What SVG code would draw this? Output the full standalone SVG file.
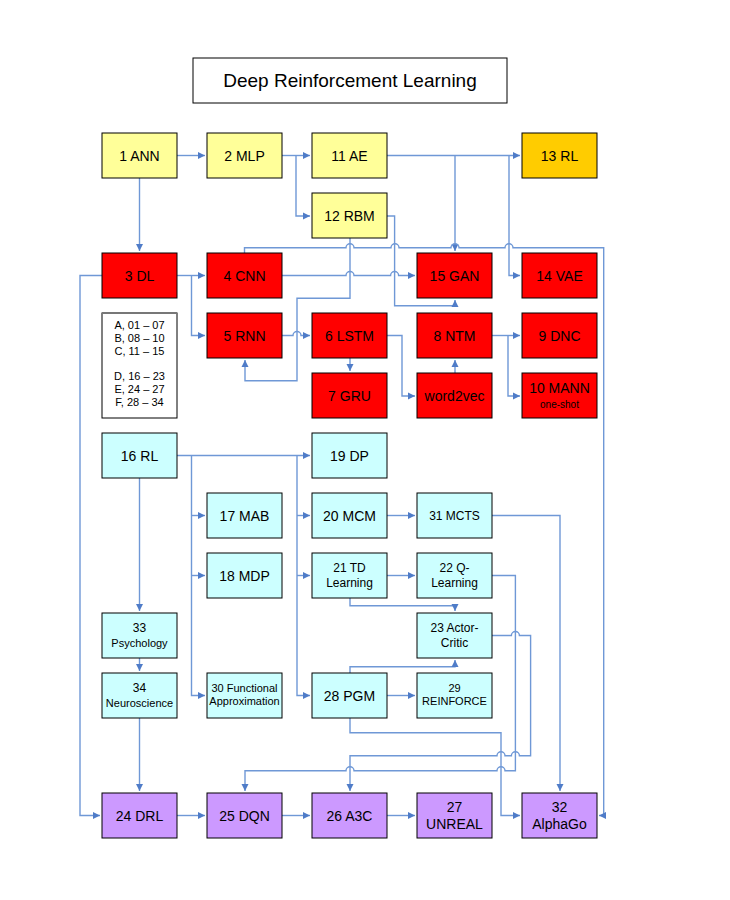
<svg xmlns="http://www.w3.org/2000/svg" width="730" height="900" viewBox="0 0 730 900">
<style>
text{font-family:"Liberation Sans",Arial,sans-serif;text-anchor:middle;fill:#000}
.n{stroke:#000;stroke-width:1}
.y{fill:#FFFF99}.o{fill:#FFCC00}.r{fill:#FF0000}.c{fill:#CCFFFF}.p{fill:#CC99FF}
.t{font-size:14px}.s{font-size:11px}.xs{font-size:10px}
#edges path{fill:none;stroke:#6F98D6;stroke-width:1.4;}
</style>
<defs><marker id="a" markerWidth="8" markerHeight="8" refX="7" refY="4" orient="auto" markerUnits="userSpaceOnUse"><path d="M0,0.5 L7,4 L0,7.5z" fill="#4F7CC8"/></marker></defs>
<rect width="730" height="900" fill="#fff"/>
<g id="title"><rect x="193" y="58" width="314" height="45" fill="#fff" stroke="#000"/><text x="350" y="87" style="font-size:19px">Deep Reinforcement Learning</text></g>
<g id="edges">
<path d="M177,155.5H205" marker-end="url(#a)"/>
<path d="M282,155.5H310" marker-end="url(#a)"/>
<path d="M296,155.5V216H310" marker-end="url(#a)"/>
<path d="M387,155.5H520" marker-end="url(#a)"/>
<path d="M455,155.5V251" marker-end="url(#a)"/>
<path d="M509,155.5V275.5H520" marker-end="url(#a)"/>
<path d="M139.5,178V251" marker-end="url(#a)"/>
<path d="M244.5,253V247.7H346a4 4 0 0 1 8 0H391a4 4 0 0 1 8 0H451a4 4 0 0 1 8 0H505a4 4 0 0 1 8 0H603.7V815.5H599" marker-end="url(#a)"/>
<path d="M387,216H394.6V305.7H455V300" marker-end="url(#a)"/>
<path d="M350,238V298.3H297V380.7H245V360" marker-end="url(#a)"/>
<path d="M177,275.5H205" marker-end="url(#a)"/>
<path d="M191.5,275.5V335.5H205" marker-end="url(#a)"/>
<path d="M282,275.5H346a4 4 0 0 1 8 0H390.6a4 4 0 0 1 8 0H415" marker-end="url(#a)"/>
<path d="M282,335.5H293a4 4 0 0 1 8 0H310" marker-end="url(#a)"/>
<path d="M350,358V371" marker-end="url(#a)"/>
<path d="M387,335.5H402V396H415" marker-end="url(#a)"/>
<path d="M455,373V360" marker-end="url(#a)"/>
<path d="M492,335.5H520" marker-end="url(#a)"/>
<path d="M508,335.5V396H520" marker-end="url(#a)"/>
<path d="M102,275.5H80V815.5H100" marker-end="url(#a)"/>
<path d="M177,455.5H310" marker-end="url(#a)"/>
<path d="M191.5,455.5V695.5H205" marker-end="url(#a)"/>
<path d="M191.5,515.5H205" marker-end="url(#a)"/>
<path d="M191.5,575.5H205" marker-end="url(#a)"/>
<path d="M297,455.5V695.5H310" marker-end="url(#a)"/>
<path d="M297,515.5H310" marker-end="url(#a)"/>
<path d="M297,575.5H310" marker-end="url(#a)"/>
<path d="M139.5,478V611" marker-end="url(#a)"/>
<path d="M139.5,658V671" marker-end="url(#a)"/>
<path d="M139.5,718V791" marker-end="url(#a)"/>
<path d="M387,515.5H415" marker-end="url(#a)"/>
<path d="M492,515.5H560V791" marker-end="url(#a)"/>
<path d="M387,575.5H415" marker-end="url(#a)"/>
<path d="M492,575.5H515.4V770.7H505a4 4 0 0 0 -8 0H354a4 4 0 0 0 -8 0H245V791" marker-end="url(#a)"/>
<path d="M350,598V605.7H455V611" marker-end="url(#a)"/>
<path d="M492,635.5H511.4a4 4 0 0 1 8 0H530.6V755.7H519.4a4 4 0 0 0 -8 0H505a4 4 0 0 0 -8 0H350V791" marker-end="url(#a)"/>
<path d="M350,673V666.7H455V660" marker-end="url(#a)"/>
<path d="M387,695.5H415" marker-end="url(#a)"/>
<path d="M350,718V732.7H501V815.5H520" marker-end="url(#a)"/>
<path d="M177,815.5H205" marker-end="url(#a)"/>
<path d="M282,815.5H310" marker-end="url(#a)"/>
<path d="M387,815.5H415" marker-end="url(#a)"/>
</g>
<g id="n1"><rect class="n y" x="102" y="133" width="75" height="45"/><text class="t" x="139.5" y="160.5">1 ANN</text></g>
<g id="n2"><rect class="n y" x="207" y="133" width="75" height="45"/><text class="t" x="244.5" y="160.5">2 MLP</text></g>
<g id="n11"><rect class="n y" x="312" y="133" width="75" height="45"/><text class="t" x="349.5" y="160.5">11 AE</text></g>
<g id="n13"><rect class="n o" x="522" y="133" width="75" height="45"/><text class="t" x="559.5" y="160.5">13 RL</text></g>
<g id="n12"><rect class="n y" x="312" y="193" width="75" height="45"/><text class="t" x="349.5" y="220.5">12 RBM</text></g>
<g id="n3"><rect class="n r" x="102" y="253" width="75" height="45"/><text class="t" x="139.5" y="280.5">3 DL</text></g>
<g id="n4"><rect class="n r" x="207" y="253" width="75" height="45"/><text class="t" x="244.5" y="280.5">4 CNN</text></g>
<g id="n15"><rect class="n r" x="417" y="253" width="75" height="45"/><text class="t" x="454.5" y="280.5">15 GAN</text></g>
<g id="n14"><rect class="n r" x="522" y="253" width="75" height="45"/><text class="t" x="559.5" y="280.5">14 VAE</text></g>
<g id="legend"><rect x="102" y="313" width="75" height="105" fill="#fff" stroke="#000"/><line x1="102" y1="313" x2="177" y2="313" stroke="#777" stroke-width="2"/>
<text class="s" x="139.5" y="329">A, 01 – 07</text><text class="s" x="139.5" y="342">B, 08 – 10</text><text class="s" x="139.5" y="355">C, 11 – 15</text>
<text class="s" x="139.5" y="380">D, 16 – 23</text><text class="s" x="139.5" y="393">E, 24 – 27</text><text class="s" x="139.5" y="406">F, 28 – 34</text></g>
<g id="n5"><rect class="n r" x="207" y="313" width="75" height="45"/><text class="t" x="244.5" y="340.5">5 RNN</text></g>
<g id="n6"><rect class="n r" x="312" y="313" width="75" height="45"/><text class="t" x="349.5" y="340.5">6 LSTM</text></g>
<g id="n8"><rect class="n r" x="417" y="313" width="75" height="45"/><text class="t" x="454.5" y="340.5">8 NTM</text></g>
<g id="n9"><rect class="n r" x="522" y="313" width="75" height="45"/><text class="t" x="559.5" y="340.5">9 DNC</text></g>
<g id="n7"><rect class="n r" x="312" y="373" width="75" height="45"/><text class="t" x="349.5" y="400.5">7 GRU</text></g>
<g id="nw2v"><rect class="n r" x="417" y="373" width="75" height="45"/><text class="t" x="454.5" y="400.5">word2vec</text></g>
<g id="n10"><rect class="n r" x="522" y="373" width="75" height="45"/><text class="t" x="559.5" y="393">10 MANN</text><text class="xs" x="559.5" y="408">one-shot</text></g>
<g id="n16"><rect class="n c" x="102" y="433" width="75" height="45"/><text class="t" x="139.5" y="460.5">16 RL</text></g>
<g id="n19"><rect class="n c" x="312" y="433" width="75" height="45"/><text class="t" x="349.5" y="460.5">19 DP</text></g>
<g id="n17"><rect class="n c" x="207" y="493" width="75" height="45"/><text class="t" x="244.5" y="520.5">17 MAB</text></g>
<g id="n20"><rect class="n c" x="312" y="493" width="75" height="45"/><text class="t" x="349.5" y="520.5">20 MCM</text></g>
<g id="n31"><rect class="n c" x="417" y="493" width="75" height="45"/><text x="454.5" y="520" style="font-size:12px">31 MCTS</text></g>
<g id="n18"><rect class="n c" x="207" y="553" width="75" height="45"/><text class="t" x="244.5" y="580.5">18 MDP</text></g>
<g id="n21"><rect class="n c" x="312" y="553" width="75" height="45"/><text x="349.5" y="572" style="font-size:12px">21 TD</text><text x="349.5" y="587" style="font-size:12px">Learning</text></g>
<g id="n22"><rect class="n c" x="417" y="553" width="75" height="45"/><text x="454.5" y="572" style="font-size:12px">22 Q-</text><text x="454.5" y="587" style="font-size:12px">Learning</text></g>
<g id="n23"><rect class="n c" x="417" y="613" width="75" height="45"/><text x="454.5" y="632" style="font-size:12px">23 Actor-</text><text x="454.5" y="647" style="font-size:12px">Critic</text></g>
<g id="n33"><rect class="n c" x="102" y="613" width="75" height="45"/><text x="139.5" y="632" style="font-size:12px">33</text><text class="s" x="139.5" y="647">Psychology</text></g>
<g id="n34"><rect class="n c" x="102" y="673" width="75" height="45"/><text x="139.5" y="692" style="font-size:12px">34</text><text class="s" x="139.5" y="707">Neuroscience</text></g>
<g id="n30"><rect class="n c" x="207" y="673" width="75" height="45"/><text class="s" x="244.5" y="692">30 Functional</text><text class="s" x="244.5" y="705">Approximation</text></g>
<g id="n28"><rect class="n c" x="312" y="673" width="75" height="45"/><text class="t" x="349.5" y="700.5">28 PGM</text></g>
<g id="n29"><rect class="n c" x="417" y="673" width="75" height="45"/><text class="s" x="454.5" y="692">29</text><text class="s" x="454.5" y="705">REINFORCE</text></g>
<g id="n24"><rect class="n p" x="102" y="793" width="75" height="45"/><text class="t" x="139.5" y="820.5">24 DRL</text></g>
<g id="n25"><rect class="n p" x="207" y="793" width="75" height="45"/><text class="t" x="244.5" y="820.5">25 DQN</text></g>
<g id="n26"><rect class="n p" x="312" y="793" width="75" height="45"/><text class="t" x="349.5" y="820.5">26 A3C</text></g>
<g id="n27"><rect class="n p" x="417" y="793" width="75" height="45"/><text class="t" x="454.5" y="812">27</text><text class="t" x="454.5" y="829">UNREAL</text></g>
<g id="n32"><rect class="n p" x="522" y="793" width="75" height="45"/><text class="t" x="559.5" y="812">32</text><text class="t" x="559.5" y="829">AlphaGo</text></g>
</svg>
